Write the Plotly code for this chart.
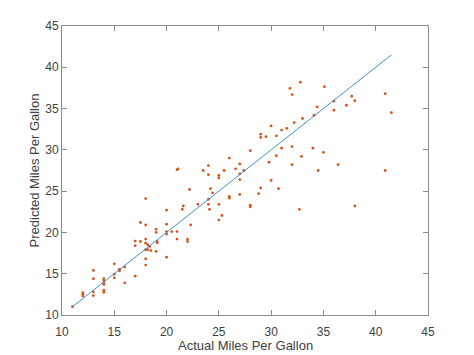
import plotly.graph_objects as go

actual = [11, 12, 12, 12, 13, 13, 13, 13, 14, 14, 14, 14, 14, 14,
          15, 15, 15, 15.5, 15.5, 16, 16, 17, 17, 17, 17.5, 17.5,
          18, 18, 18, 18, 18.2, 18.4, 18, 18.2, 18.5, 18, 18,
          19, 19, 19.1, 19.1, 19, 20, 20, 20, 20, 20, 20.5, 21, 21, 22, 22,
          21.5, 21.6, 22.3, 22.2, 21, 21.1, 23, 23.5, 24, 24, 24.2, 24.4,
          24, 24, 24.1, 25, 25, 25, 25.3, 25, 25.5, 26, 26, 26, 26.6,
          27, 27, 27, 27, 27.4, 28, 28, 28, 28.8, 29, 29, 29, 29.5, 29.8,
          30, 30, 30.5, 30.5, 30.7, 31, 31, 31.5, 31.8, 32, 32, 32, 32.2,
          32.7, 32.8, 32.9, 33, 34, 34.1, 34.4, 34.5, 35, 35.1, 36, 36,
          36.4, 37.2, 37.7, 38, 38, 40.9, 40.9, 41.5]
predicted = [11.0, 12.7, 12.5, 12.3, 15.4, 14.4, 12.8, 12.35, 14.4, 14.2, 13.9, 13.7, 13.0, 12.75,
             16.2, 14.95, 14.5, 15.55, 15.35, 15.8, 13.9, 14.7, 18.95, 18.4, 18.9, 21.2,
             20.9, 24.1, 19.2, 18.7, 18.5, 18.3, 17.9, 17.9, 17.8, 16.8, 16.05,
             20.4, 20.0, 18.9, 18.75, 17.7, 22.7, 21.0, 20.1, 19.8, 17.0, 20.1, 20.1, 19.2, 19.2, 18.9,
             22.8, 23.2, 20.9, 25.2, 27.6, 27.7, 23.4, 27.5, 28.1, 27.0, 25.3, 24.8,
             24.0, 23.4, 22.8, 26.9, 26.6, 23.4, 22.05, 21.5, 27.5, 29.0, 24.35, 24.15, 27.7,
             28.3, 27.1, 26.4, 24.6, 27.5, 29.9, 23.3, 23.1, 24.7, 25.4, 31.9, 31.5, 31.6, 28.5,
             32.9, 26.3, 31.7, 29.3, 25.3, 32.4, 30.2, 32.6, 37.45, 36.7, 30.4, 28.2, 33.3,
             22.8, 38.2, 29.2, 33.8, 30.2, 34.2, 35.2, 27.5, 29.7, 37.65, 35.9, 34.8,
             28.2, 35.4, 36.5, 35.95, 23.2, 36.8, 27.5, 34.5]

x_ticks = [10, 15, 20, 25, 30, 35, 40, 45]
y_ticks = [10, 15, 20, 25, 30, 35, 40, 45]
x_title = "Actual Miles Per Gallon"
y_title = "Predicted Miles Per Gallon"

line_x = [min(actual), max(actual)]
line_y = [min(actual), max(actual)]

fig = go.Figure()
fig.add_trace(go.Scatter(x=actual, y=predicted, mode="markers",
                         marker=dict(color="#D95319", size=2.8, line=dict(width=0)),
                         showlegend=False))
fig.add_trace(go.Scatter(x=line_x, y=line_y, mode="lines",
                         line=dict(color="#2a86c6", width=0.9),
                         showlegend=False))

font_family = "Liberation Sans, Arial"
axis_common = dict(showgrid=False, zeroline=False, showline=True, linecolor="#8a8a8a",
                   linewidth=1, mirror="ticks", ticks="inside", ticklen=5, automargin=False,
                   tickcolor="#8a8a8a", tickfont=dict(family=font_family, size=12, color="#404040"))

fig.update_xaxes(range=[10, 45], tickvals=x_ticks, ticktext=[str(v) for v in x_ticks],
                 ticklabelstandoff=6, **axis_common)
fig.update_yaxes(range=[10, 45], tickvals=y_ticks, ticktext=[str(v) for v in y_ticks],
                 title=dict(text=y_title, standoff=2,
                            font=dict(family=font_family, size=13, color="#404040")),
                 **axis_common)

fig.add_annotation(text=x_title, xref="paper", yref="paper", x=0.5, y=-0.106,
                   xanchor="center", yanchor="middle", showarrow=False,
                   font=dict(family=font_family, size=13, color="#404040"))

fig.update_layout(width=474, height=355, margin=dict(l=62, r=46, t=26, b=40),
                  paper_bgcolor="white", plot_bgcolor="white")

fig.write_html("out.html")
